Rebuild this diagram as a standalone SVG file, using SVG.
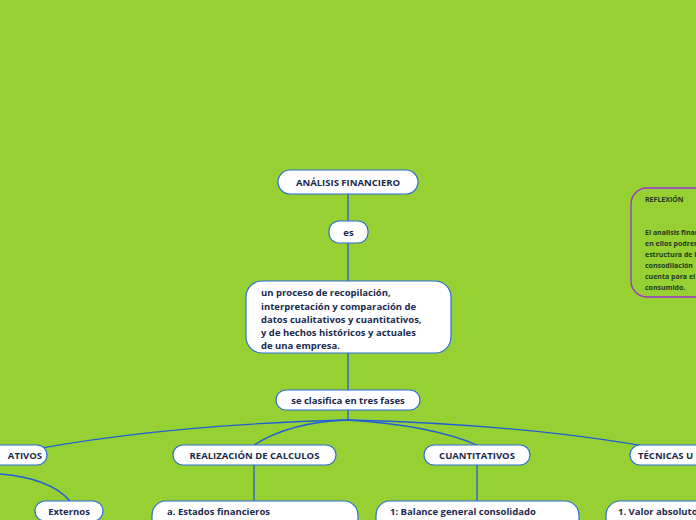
<svg xmlns="http://www.w3.org/2000/svg" width="696" height="520" viewBox="0 0 696 520">
<style>
.n{fill:#fff;stroke:#2a6fd6;stroke-width:1.2}
.t{font-family:"Open Sans","Noto Sans",sans-serif;font-weight:bold;font-size:9.5px;fill:#1b2a4e}
.c{fill:none;stroke:#1f5fd6;stroke-width:1.3}
.r{font-family:"Open Sans","Noto Sans",sans-serif;font-weight:bold;font-size:7px;fill:#1e3a1e}
</style>
<rect width="696" height="520" fill="#97d033"/>
<g id="connectors">
<path class="c" d="M348 194V221M348 243V281M348 353V390M348 410V420"/>
<path class="c" d="M348 420Q150 425 5 455"/>
<path class="c" d="M348 420Q290 422 254 445"/>
<path class="c" d="M348 420Q430 425 477 445"/>
<path class="c" d="M348 420Q550 425 690 455"/>
<path class="c" d="M254 465V501M477 465V501"/>
<path class="c" d="M0 474Q50 478 70 501"/>
</g>
<g id="n1"><rect class="n" x="278" y="170" width="140" height="24" rx="12"/><text class="t" x="348" y="186" text-anchor="middle">ANÁLISIS FINANCIERO</text></g>
<g id="n2"><rect class="n" x="329" y="221" width="39" height="22" rx="10"/><text class="t" x="348.5" y="235.5" text-anchor="middle">es</text></g>
<g id="n3"><rect class="n" x="246" y="281" width="205" height="72" rx="16"/>
<text class="t" x="261" y="296">un proceso de recopilación,</text>
<text class="t" x="261" y="310">interpretación y comparación de</text>
<text class="t" x="261" y="323">datos cualitativos y cuantitativos,</text>
<text class="t" x="261" y="336">y de hechos históricos y actuales</text>
<text class="t" x="261" y="349">de una empresa.</text></g>
<g id="n4"><rect class="n" x="276" y="390" width="144" height="20" rx="10"/><text class="t" x="348" y="403.5" text-anchor="middle">se clasifica en tres fases</text></g>
<g id="n5"><rect class="n" x="-30" y="445" width="77" height="20" rx="10"/><text class="t" x="42" y="458.5" text-anchor="end">ATIVOS</text></g>
<g id="n6"><rect class="n" x="173" y="445" width="163" height="20" rx="10"/><text class="t" x="254.5" y="458.5" text-anchor="middle">REALIZACIÓN DE CALCULOS</text></g>
<g id="n7"><rect class="n" x="424" y="445" width="106" height="20" rx="10"/><text class="t" x="477" y="458.5" text-anchor="middle">CUANTITATIVOS</text></g>
<g id="n8"><rect class="n" x="630" y="445" width="90" height="20" rx="10"/><text class="t" x="638" y="458.5">TÉCNICAS U</text></g>
<g id="n9"><rect class="n" x="35" y="501" width="68" height="20" rx="10"/><text class="t" x="69" y="514.5" text-anchor="middle">Externos</text></g>
<g id="n10"><rect class="n" x="152" y="501" width="206" height="40" rx="14"/><text class="t" x="167" y="514.5">a. Estados financieros</text></g>
<g id="n11"><rect class="n" x="376" y="501" width="203" height="40" rx="14"/><text class="t" x="390" y="514.5">1: Balance general consolidado</text></g>
<g id="n12"><rect class="n" x="606" y="501" width="114" height="40" rx="14"/><text class="t" x="618" y="514.5">1. Valor absoluto</text></g>
<g id="n13"><rect x="631" y="188" width="90" height="109" rx="16" fill="none" stroke="#9b2fd4" stroke-width="1.3"/>
<text class="r" x="645" y="202">REFLEXIÓN</text>
<text class="r" x="645" y="235">El analisis financiero</text>
<text class="r" x="645" y="246">en ellos podremos</text>
<text class="r" x="645" y="257">estructura de la</text>
<text class="r" x="645" y="268">consodilación</text>
<text class="r" x="645" y="279">cuenta para el</text>
<text class="r" x="645" y="290">consumido.</text></g>
</svg>
